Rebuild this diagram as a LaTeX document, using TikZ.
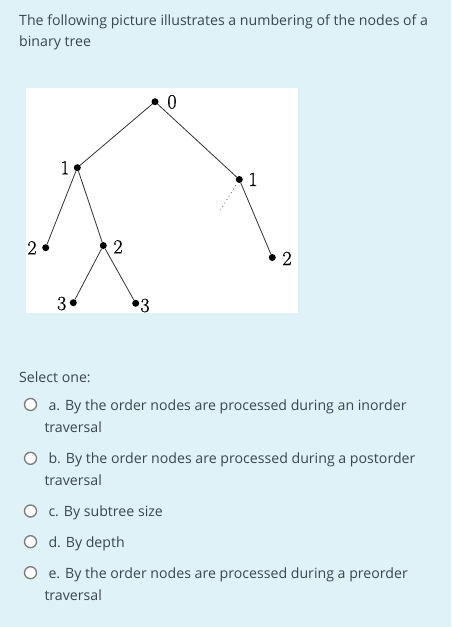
\documentclass[tikz,border=0pt]{standalone}
\usepackage{fontspec}
\setmainfont{Open Sans}
\newfontfamily\lmr[FakeBold=0.7]{Latin Modern Roman}
\definecolor{bgc}{HTML}{DEF2F8}
\definecolor{txtc}{HTML}{3C4650}
\definecolor{radioc}{HTML}{7A7A7A}
\begin{document}
\begin{tikzpicture}[x=1pt,y=-1pt,
  txt/.style={anchor=base west, inner sep=0pt, text=txtc, font=\fontsize{14.15}{17}\selectfont},
  dot/.style={circle, fill=black, inner sep=0pt, minimum size=7pt},
  lab/.style={anchor=base, inner sep=0pt, font=\lmr\fontsize{20}{24}\selectfont},
  edge/.style={draw=black!80, line width=0.8pt},
  radiob/.style={circle, draw=radioc, line width=1.3pt, fill=white, minimum size=12pt, inner sep=0pt}]
\useasboundingbox (0,0) rectangle (451,627);
\fill[bgc] (0,0) rectangle (451,627);
\fill[white] (26,88) rectangle (298,313);
% tree nodes
\node[dot] (n0) at (155,101.7) {};
\node[dot] (n1) at (77.3,167.7) {};
\node[dot] (n2) at (239.3,179.5) {};
\node[dot] (n3) at (45.7,247.7) {};
\node[dot] (n4) at (103.3,245.5) {};
\node[dot] (n5) at (272.3,257.5) {};
\node[dot] (n6) at (73.3,302.7) {};
\node[dot] (n7) at (135.7,303.3) {};
\coordinate (dz) at (220.5,210);
\draw[edge] (n0) -- (n1);
\draw[edge] (n0) -- (n2);
\draw[edge] (n1) -- (n3);
\draw[edge] (n1) -- (n4);
\draw[edge] (n4) -- (n6);
\draw[edge] (n4) -- (n7);
\draw[edge] (n2) -- (n5);
\draw[black!55, line width=0.9pt, dash pattern=on 0.9pt off 3.2pt, shorten <=3pt] (n2) -- (dz);
% labels
\node[lab] (l0) at (172,108.3) {0};
\node[lab] (l1) at (65,174.4) {1};
\node[lab] (l2) at (253,186) {1};
\node[lab] (l3) at (32,254.4) {2};
\node[lab] (l4) at (118,253.4) {2};
\node[lab] (l5) at (287,265) {2};
\node[lab] (l6) at (61.7,310) {3};
\node[lab] (l7) at (145,312) {3};
% text
\node[txt] (t1) at (19,25) {The following picture illustrates a numbering of the nodes of a};
\node[txt] (t2) at (19,46.5) {binary tree};
\node[txt] (sel) at (19,382.5) {Select one:};
\node[radiob] (ra) at (30.5,404.5) {};
\node[radiob] (rb) at (30.5,458.3) {};
\node[radiob] (rc) at (30.5,511) {};
\node[radiob] (rd) at (30.5,541.7) {};
\node[radiob] (re) at (30.5,572.7) {};
\node[txt] (a1) at (48.3,410) {a. By the order nodes are processed during an inorder};
\node[txt] (a2) at (44.3,432.3) {traversal};
\node[txt] (b1) at (48.3,463.3) {b. By the order nodes are processed during a postorder};
\node[txt] (b2) at (44.3,485) {traversal};
\node[txt] (c1) at (48.3,516.7) {c. By subtree size};
\node[txt] (d1) at (48.3,547.3) {d. By depth};
\node[txt] (e1) at (48.3,578.3) {e. By the order nodes are processed during a preorder};
\node[txt] (e2) at (44.3,600) {traversal};
\end{tikzpicture}
\end{document}
